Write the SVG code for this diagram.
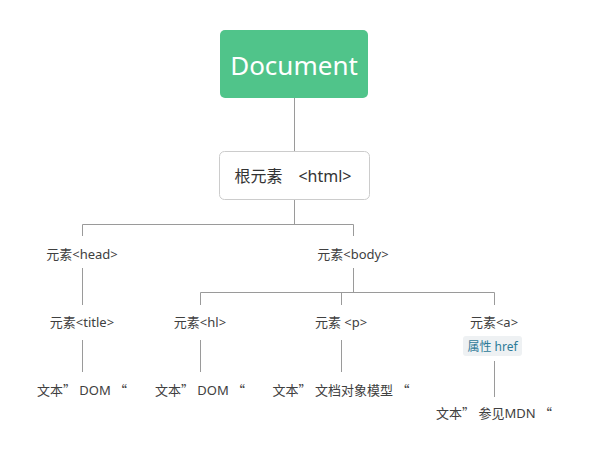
<svg xmlns="http://www.w3.org/2000/svg" width="589" height="458" viewBox="0 0 589 458">
<style>
.ln{stroke:#9a9a9a;stroke-width:1;fill:none}
.t{font-family:"Noto Sans","Noto Sans CJK SC",sans-serif;font-size:13px;fill:#404040;text-anchor:middle}
.q{font-family:"Noto Sans CJK SC",sans-serif}
</style>
<rect width="589" height="458" fill="#ffffff"/>
<g id="connectors">
<path class="ln" d="M294.5 98V151"/>
<path class="ln" d="M294.5 200V224.5M82.5 224.5H353.5M82.5 224.5V236M353.5 224.5V236"/>
<path class="ln" d="M82.5 268V305M82.5 340V372"/>
<path class="ln" d="M353.5 268V292.5M200.5 292.5H494.5M200.5 292.5V305M341.5 292.5V305M494.5 292.5V305"/>
<path class="ln" d="M200.5 340V372M341.5 340V372M494.5 361V397"/>
</g>
<g id="document">
<rect x="220" y="30" width="148" height="68" rx="5" fill="#50c48a"/>
<text x="294" y="75" font-family="'Noto Sans','Open Sans',sans-serif" font-size="26" fill="#ffffff" text-anchor="middle">Document</text>
</g>
<g id="html">
<rect x="219.5" y="151.5" width="150" height="48" rx="5" fill="#ffffff" stroke="#cccccc"/>
<text x="293" y="182" font-family="'Noto Sans','Noto Sans CJK SC',sans-serif" font-size="16" fill="#333333" text-anchor="middle">根元素　&lt;html&gt;</text>
</g>
<g id="head"><text class="t" x="82" y="259">元素&lt;head&gt;</text></g>
<g id="body"><text class="t" x="353" y="259">元素&lt;body&gt;</text></g>
<g id="title"><text class="t" x="82" y="327">元素&lt;title&gt;</text></g>
<g id="h1"><text class="t" x="200" y="327">元素&lt;hl&gt;</text></g>
<g id="p"><text class="t" x="341" y="327">元素 &lt;p&gt;</text></g>
<g id="a"><text class="t" x="494" y="327">元素&lt;a&gt;</text>
<rect x="463" y="336" width="59" height="20" rx="3" fill="#eef1f3"/>
<text x="492.5" y="350.5" font-family="'Noto Sans','Noto Sans CJK SC',sans-serif" font-size="12" fill="#2c7a98" text-anchor="middle">属性 href</text>
</g>
<g id="text1"><text class="t" x="82" y="395">文本<tspan class="q">”</tspan> DOM <tspan class="q">“</tspan></text></g>
<g id="text2"><text class="t" x="200" y="395">文本<tspan class="q">”</tspan> DOM <tspan class="q">“</tspan></text></g>
<g id="text3"><text class="t" x="341" y="395">文本<tspan class="q">”</tspan> 文档对象模型 <tspan class="q">“</tspan></text></g>
<g id="text4"><text class="t" x="494" y="418">文本<tspan class="q">”</tspan> 参见MDN <tspan class="q">“</tspan></text></g>
</svg>
